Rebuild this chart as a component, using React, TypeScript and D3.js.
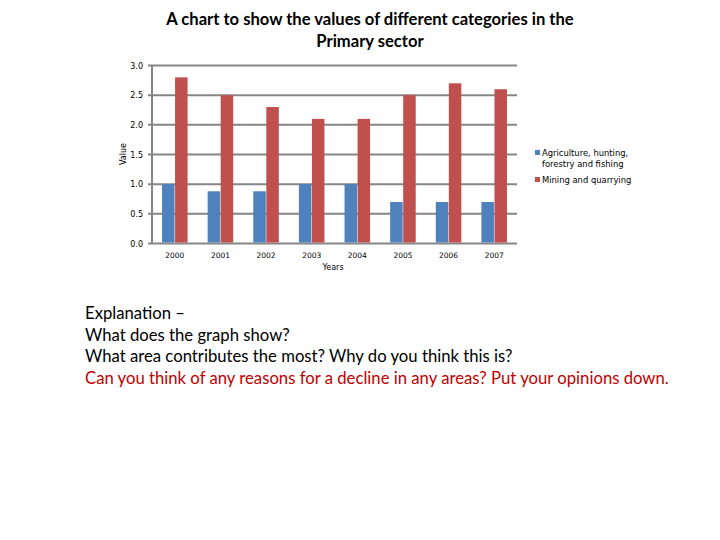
import React from "react";
import * as d3 from "d3";

const years = ["2000", "2001", "2002", "2003", "2004", "2005", "2006", "2007"];
const agriculture = [1.0, 0.88, 0.88, 1.0, 1.0, 0.7, 0.7, 0.7];
const mining = [2.8, 2.5, 2.3, 2.1, 2.1, 2.5, 2.7, 2.6];
const seriesNames = ["Agriculture, hunting,|forestry and fishing", "Mining and quarrying"];
const seriesColors = ["#4f81bd", "#c0504d"];
const yTicks = [0, 0.5, 1.0, 1.5, 2.0, 2.5, 3.0];
const titleLines = ["A chart to show the values of different categories in the", "Primary sector"];
const textLines = [
  "Explanation –",
  "What does the graph show?",
  "What area contributes the most? Why do you think this is?",
  "Can you think of any reasons for a decline in any areas? Put your opinions down.",
];

export default function App() {
  const W = 720, H = 540;
  const left = 152, right = 517, top = 65.5, bottom = 243.5;
  const x = d3.scaleBand().domain(years).range([left, right]).paddingInner(0.44).paddingOuter(0.22);
  const inner = d3.scaleBand().domain(["0", "1"]).range([0, x.bandwidth()]).paddingInner(0.04);
  const y = d3.scaleLinear().domain([0, 3]).range([bottom, top]);
  const data = [agriculture, mining];
  const tickFont = "'DejaVu Sans', sans-serif";
  const grid = "#868686";

  return (
    <svg width={W} height={H} style={{ position: "absolute", left: 0, top: 0, background: "#fff" }}>
      <rect width={W} height={H} fill="#fff" />
      {titleLines.map((t, i) => (
        <text key={i} x={370} y={25 + i * 22} textAnchor="middle" fontFamily="Lato, 'Open Sans', sans-serif" fontWeight="bold" fontSize={16.6}>{t}</text>
      ))}
      {yTicks.map((v) => (
        <g key={v}>
          <line x1={left - 4} x2={right} y1={y(v)} y2={y(v)} stroke={grid} strokeWidth={2} />
          <text x={143} y={y(v) + 3} textAnchor="end" fontFamily={tickFont} fontSize={8}>{v.toFixed(1)}</text>
        </g>
      ))}
      <line x1={left} x2={left} y1={top} y2={bottom} stroke={grid} strokeWidth={2} />
      {data.map((s, si) =>
        s.map((v, i) => (
          <rect key={si + "-" + i}
            x={(x(years[i]) as number) + (inner(String(si)) as number)}
            y={y(v)} width={inner.bandwidth()} height={bottom - y(v) - 1}
            fill={seriesColors[si]} />
        ))
      )}
      {years.map((yr) => (
        <text key={yr} x={(x(yr) as number) + x.bandwidth() / 2} y={258} textAnchor="middle" fontFamily={tickFont} fontSize={7.5}>{yr}</text>
      ))}
      <text x={333} y={270} textAnchor="middle" fontFamily={tickFont} fontSize={8}>Years</text>
      <text transform={`translate(126,154) rotate(-90)`} textAnchor="middle" fontFamily={tickFont} fontSize={8}>Value</text>
      {seriesNames.map((n, i) => {
        const yy = i === 0 ? 153 : 180;
        const parts = n.split("|");
        return (
          <g key={i}>
            <rect x={535} y={yy - 3} width={5} height={5} fill={seriesColors[i]} />
            {parts.map((p, j) => (
              <text key={j} x={542} y={yy + 3 + j * 10.5} fontFamily={tickFont} fontSize={8.4}>{p}</text>
            ))}
          </g>
        );
      })}
      {textLines.map((t, i) => (
        <text key={i} x={85} y={319 + i * 21.7} fontFamily="Lato, 'Open Sans', sans-serif" fontSize={16.7} fill={i === 3 ? "#c00000" : "#000"}>{t}</text>
      ))}
    </svg>
  );
}
